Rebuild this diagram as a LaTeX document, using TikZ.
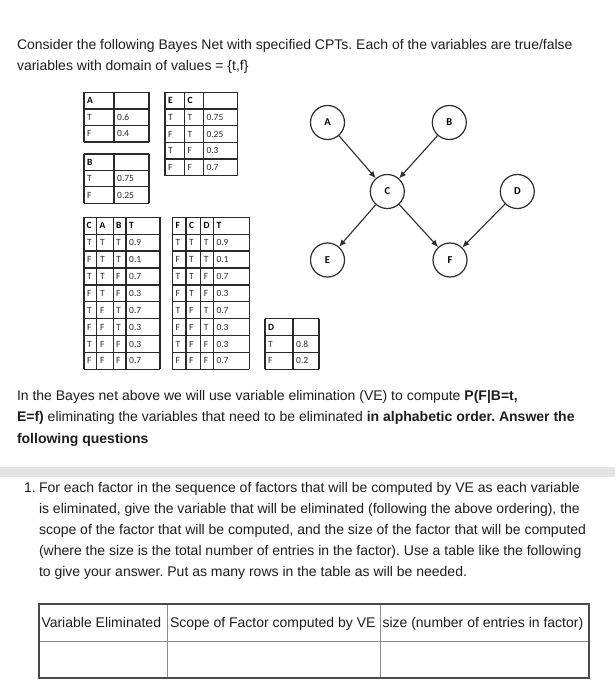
\documentclass[tikz,border=0pt]{standalone}
\usepackage{fontspec}
\setmainfont{Liberation Sans}
\newfontfamily\cptfont{Carlito}
\usetikzlibrary{arrows.meta}
\definecolor{txt}{HTML}{1E1E1E}
\definecolor{cellgray}{HTML}{2C2C2C}
\definecolor{cptln}{HTML}{2A2A2A}
\definecolor{nodegray}{HTML}{2E2E2E}
\definecolor{barfill}{HTML}{E3E3E3}
\definecolor{tabouter}{HTML}{4A4A4A}
\definecolor{tabinner}{HTML}{8A8A8A}
\tikzset{
  ln/.style={anchor=base west, inner sep=0pt, outer sep=0pt, font=\frenchspacing\fontsize{14}{16}\selectfont, text=txt},
  cptline/.style={draw=cptln, line width=1.3pt, line cap=square},
  cell/.style={anchor=west, inner sep=0pt, font=\cptfont\fontsize{9.5}{10}\selectfont, text=cellgray},
  head/.style={anchor=west, inner sep=0pt, font=\cptfont\bfseries\fontsize{9.5}{10}\selectfont, text=black},
  bn/.style={circle, draw=nodegray, line width=1.2pt, minimum size=34pt, inner sep=0pt, font=\cptfont\bfseries\fontsize{10.5}{11}\selectfont, text=black},
  arr/.style={draw=nodegray, line width=1.1pt, -{Latex[length=7pt,width=6pt]}},
  tabout/.style={draw=tabouter, line width=1.2pt},
  tabin/.style={draw=tabinner, line width=1pt}
}
\newcommand{\cptgrid}[6]{%
  \foreach \xx in {#1} {\draw[cptline] (\xx,#5) -- (\xx,#6);}
  \foreach \yy in {#2} {\draw[cptline] (#3,\yy) -- (#4,\yy);}
}
\begin{document}
\frenchspacing
\begin{tikzpicture}[x=1pt,y=-1pt]
\useasboundingbox (0,0) rectangle (615,700);
\fill[white] (0,0) rectangle (615,700);

% ---------- top paragraph ----------
\node[ln] (p1a) at (17,50) {Consider the following Bayes Net with specified CPTs. Each of the variables are true/false};
\node[ln] (p1b) at (17,71) {variables with domain of values = \{t,f\}};

% ---------- CPT table A ----------
\cptgrid{84,114,149}{92.3,108.9,125.5,142.1}{84}{149}{92.3}{142.1}
\node[head] (ta-h) at (87,100.6) {A};
\node[cell] (ta-1a) at (87,117.2) {T};
\node[cell] (ta-1b) at (117,117.2) {0.6};
\node[cell] (ta-2a) at (87,133.8) {F};
\node[cell] (ta-2b) at (117,133.8) {0.4};

% ---------- CPT table B ----------
\cptgrid{84,114,149}{154,170.4,186.8,203.3}{84}{149}{154}{203.3}
\node[head] (tb-h) at (87,162.2) {B};
\node[cell] (tb-1a) at (87,178.6) {T};
\node[cell] (tb-1b) at (117,178.6) {0.75};
\node[cell] (tb-2a) at (87,195) {F};
\node[cell] (tb-2b) at (117,195) {0.25};

% ---------- CPT table E C ----------
\cptgrid{165,184.3,203.3,237.3}{92.3,108.98,125.66,142.34,159.02,175.7}{165}{237.3}{92.3}{175.7}
\node[head] (tec-h1) at (168,100.64) {E};
\node[head] (tec-h2) at (187.3,100.64) {C};
\foreach \e/\c/\p [count=\i] in {T/T/0.75, F/T/0.25, T/F/0.3, F/F/0.7} {
  \node[cell] (tec-\i-a) at (168,{100.64+16.68*\i}) {\e};
  \node[cell] (tec-\i-b) at (187.3,{100.64+16.68*\i}) {\c};
  \node[cell] (tec-\i-c) at (206.3,{100.64+16.68*\i}) {\p};
}

% ---------- CPT table C|A,B ----------
\cptgrid{84,96.7,113.3,126,160}{217.3,234.19,251.08,267.97,284.86,301.75,318.64,335.53,352.42,369.3}{84}{160}{217.3}{369.3}
\node[head] (tcab-h1) at (86.5,225.75) {C};
\node[head] (tcab-h2) at (99.3,225.75) {A};
\node[head] (tcab-h3) at (115.8,225.75) {B};
\node[head] (tcab-h4) at (129,225.75) {T};
\foreach \c/\a/\b/\p [count=\i] in {T/T/T/0.9, F/T/T/0.1, T/T/F/0.7, F/T/F/0.3, T/F/T/0.7, F/F/T/0.3, T/F/F/0.3, F/F/F/0.7} {
  \node[cell] (tcab-\i-a) at (86.8,{225.75+16.89*\i}) {\c};
  \node[cell] (tcab-\i-b) at (99.8,{225.75+16.89*\i}) {\a};
  \node[cell] (tcab-\i-c) at (116,{225.75+16.89*\i}) {\b};
  \node[cell] (tcab-\i-d) at (129,{225.75+16.89*\i}) {\p};
}

% ---------- CPT table F|C,D ----------
\cptgrid{172.3,186,200.7,213.3,249.3}{217.3,234.19,251.08,267.97,284.86,301.75,318.64,335.53,352.42,369.3}{172.3}{249.3}{217.3}{369.3}
\node[head] (tfcd-h1) at (175.5,225.75) {F};
\node[head] (tfcd-h2) at (189,225.75) {C};
\node[head] (tfcd-h3) at (203.3,225.75) {D};
\node[head] (tfcd-h4) at (216.3,225.75) {T};
\foreach \c/\a/\b/\p [count=\i] in {T/T/T/0.9, F/T/T/0.1, T/T/F/0.7, F/T/F/0.3, T/F/T/0.7, F/F/T/0.3, T/F/F/0.3, F/F/F/0.7} {
  \node[cell] (tfcd-\i-a) at (175.5,{225.75+16.89*\i}) {\c};
  \node[cell] (tfcd-\i-b) at (189,{225.75+16.89*\i}) {\a};
  \node[cell] (tfcd-\i-c) at (203.7,{225.75+16.89*\i}) {\b};
  \node[cell] (tfcd-\i-d) at (216.3,{225.75+16.89*\i}) {\p};
}

% ---------- CPT table D ----------
\cptgrid{265,293,319}{318.64,335.53,352.42,369.3}{265}{319}{318.64}{369.3}
\node[head] (td-h) at (268,327.1) {D};
\node[cell] (td-1a) at (268,344) {T};
\node[cell] (td-1b) at (296,344) {0.8};
\node[cell] (td-2a) at (268,360.9) {F};
\node[cell] (td-2b) at (296,360.9) {0.2};

% ---------- Bayes net ----------
\node[bn] (A) at (327.5,122.5) {A};
\node[bn] (B) at (449.3,122.5) {B};
\node[bn] (C) at (387.3,191.5) {C};
\node[bn] (D) at (517.3,191.5) {D};
\node[bn] (E) at (327.5,260) {E};
\node[bn] (F) at (450,260) {F};
\draw[arr] (A) -- (C);
\draw[arr] (B) -- (C);
\draw[arr] (C) -- (E);
\draw[arr] (C) -- (F);
\draw[arr] (D) -- (F);

% ---------- second paragraph ----------
\node[ln] (p2a) at (17,400) {In the Bayes net above we will use variable elimination (VE) to compute \textbf{P(F|B=t,}};
\node[ln] (p2b) at (17,421) {\textbf{E=f)} eliminating the variables that need to be eliminated \textbf{in alphabetic order. Answer the}};
\node[ln] (p2c) at (17,443) {\textbf{following questions}};

% ---------- separator bar ----------
\fill[barfill] (0,467) rectangle (615,477);

% ---------- question 1 ----------
\node[ln] (q1n) at (24,492) {1.};
\node[ln] (q1a) at (39,492) {For each factor in the sequence of factors that will be computed by VE as each variable};
\node[ln] (q1b) at (39,513) {is eliminated, give the variable that will be eliminated (following the above ordering), the};
\node[ln] (q1c) at (39,534) {scope of the factor that will be computed, and the size of the factor that will be computed};
\node[ln] (q1d) at (39,555) {(where the size is the total number of entries in the factor). Use a table like the following};
\node[ln] (q1e) at (39,576) {to give your answer. Put as many rows in the table as will be needed.};

% ---------- answer table ----------
\draw[tabin] (39,641) -- (589,641);
\draw[tabin] (167,604) -- (167,678);
\draw[tabin] (380,604) -- (380,678);
\draw[tabout] (39,604) rectangle (589,678);
\node[ln] (th1) at (41.5,627) {Variable Eliminated};
\node[ln] (th2) at (170,627) {Scope of Factor computed by VE};
\node[ln] (th3) at (382.5,627) {size (number of entries in factor)};
\end{tikzpicture}
\end{document}
